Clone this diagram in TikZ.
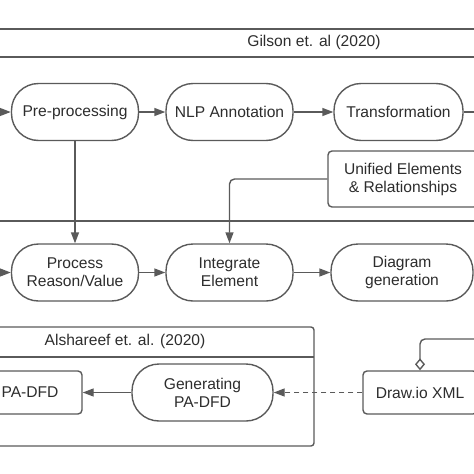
\documentclass[tikz,border=0pt]{standalone}
\usepackage{fontspec}
\setmainfont{Liberation Sans}
\usepackage{xcolor}
\usetikzlibrary{arrows.meta, positioning, calc}
\definecolor{lanegray}{RGB}{90, 90, 90}
\definecolor{textgray}{RGB}{45, 45, 45}
\tikzset{
    stadium/.style={
        rectangle, rounded corners=27pt, minimum width=127pt, minimum height=57pt,
        draw=lanegray, line width=1.4pt, fill=white, text=textgray,
        font=\fontsize{15.6}{18}\selectfont, align=center, inner sep=0pt
    },
    databox/.style={stadium, rounded corners=4pt, minimum height=43pt},
    notebox/.style={stadium, rounded corners=4pt, minimum height=56pt},
    arrow/.style={-{Triangle[length=11pt, width=8pt]}, line width=1.4pt, color=lanegray},
    dasharrow/.style={arrow, dash pattern=on 5pt off 4pt},
    aggr/.style={{Diamond[open, length=12pt, width=10pt]}-, line width=1.4pt, color=lanegray, rounded corners=5pt},
    lane/.style={line width=1.8pt, color=lanegray},
    title/.style={font=\fontsize{15.6}{18}\selectfont, text=textgray},
}
\begin{document}
\begin{tikzpicture}[x=1pt, y=-1pt]
    \useasboundingbox (0,0) rectangle (474,474);
    \clip (0,0) rectangle (474,474);

    % Gilson et al. lane
    \draw[lane] (-10,29) -- (490,29);
    \draw[lane] (-10,57) -- (490,57);
    \draw[lane] (-10,221) -- (490,221);
    \node[title] (gilson) at (314,42) {Gilson et. al (2020)};

    \node[stadium] (pre) at (75,112) {Pre-processing};
    \node[stadium] (nlp) at (229.5,112) {NLP Annotation};
    \node[stadium, minimum width=129pt] (trans) at (398.5,112) {Transformation};
    \node[notebox, minimum width=150pt] (unified) at (403,179) {Unified Elements\\\& Relationships};

    \node[stadium] (proc) at (75,272.5) {Process\\Reason/Value};
    \node[stadium] (integ) at (229.5,272.5) {Integrate\\Element};
    \node[stadium, minimum width=142pt] (diag) at (402,272.5) {Diagram\\generation};

    \coordinate (inpre) at (-10,112);
    \coordinate (outtrans) at (490,112);
    \coordinate (inproc) at (-10,272.5);

    \draw[arrow] (inpre) -- (pre);
    \draw[arrow] (pre) -- (nlp);
    \draw[arrow] (nlp) -- (trans);
    \draw[line width=1.4pt, color=lanegray] (trans) -- (outtrans);
    \draw[arrow] (pre) -- (proc);
    \draw[arrow, rounded corners=5pt] (unified.west) -| (integ.north);
    \draw[arrow] (inproc) -- (proc);
    \draw[arrow] (proc) -- (integ);
    \draw[arrow] (integ) -- (diag);

    % Alshareef et al. box
    \draw[lane, line width=1.4pt, rounded corners=3pt] (-10,327) rectangle (314,446);
    \draw[lane, line width=1.4pt] (-10,357) -- (314,357);
    \node[title] (alshareef) at (125,341) {Alshareef et. al. (2020)};

    \node[databox, minimum width=104pt] (padfd) at (30,392.5) {PA-DFD};
    \node[stadium, minimum width=141pt] (gen) at (202.5,392.5) {Generating\\PA-DFD};
    \node[databox, minimum width=114pt] (drawio) at (420,392.5) {Draw.io XML};
    \coordinate (outxml) at (490,339);

    \draw[arrow] (gen) -- (padfd);
    \draw[dasharrow] (drawio) -- (gen);
    \draw[aggr] (drawio.north) |- (outxml);
\end{tikzpicture}
\end{document}
